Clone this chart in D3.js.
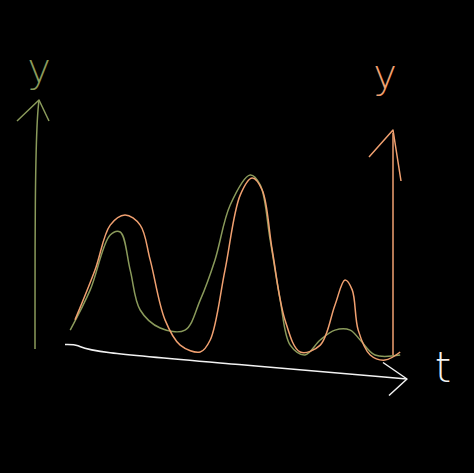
<!DOCTYPE html>
<html><head><meta charset="utf-8">
<script src="https://cdn.jsdelivr.net/npm/d3@7"></script>
<style>html,body{margin:0;background:#000;}</style></head>
<body><svg id="c" width="474" height="473"></svg>
<script>
const greenT=[0.88,1.38,1.88,2.13,2.38,2.63,3.13,3.75,4.13,4.5,4.88,5.38,5.63,5.88,6.13,6.38,6.75,7.13,7.5,7.88,8.13,8.5,9.13];
const greenY=[1.33,2.67,4.5,4.6,3.33,2,1.4,1.33,2.33,3.67,5.5,6.5,6.17,4.33,2.33,0.83,0.5,1,1.33,1.33,1,0.5,0.5];
const orangeT=[1,1.5,1.88,2.25,2.63,2.88,3.25,3.63,4.13,4.38,4.75,5.13,5.43,5.68,5.93,6.25,6.63,7.13,7.5,7.75,7.93,8.08,8.38,8.75,9.13];
const orangeY=[1.67,3.33,4.83,5.17,4.83,3.67,1.67,0.83,0.6,1,3.33,5.83,6.4,6,4,1.67,0.6,0.83,2.17,3,2.67,1.33,0.5,0.33,0.6];
const labels=["y","y","t"];
const svg=d3.select("#c");
svg.append("rect").attr("width",474).attr("height",473).attr("fill","#000");
const x=d3.scaleLinear().domain([0,10]).range([35,435]);
const y=d3.scaleLinear().domain([0,10]).range([370,70]);
const line=d3.line().x(d=>x(d[0])).y(d=>y(d[1])).curve(d3.curveCatmullRom);
const curve=d3.line().x(d=>x(d[0])).y(d=>y(d[1])).curve(d3.curveBasis);
const lin=d3.line().x(d=>x(d[0])).y(d=>y(d[1]));
const G="#8a9a5b",O="#f0a070",W="#f2f2f2";
function p(d,c){svg.append("path").attr("d",d).attr("stroke",c).attr("fill","none").attr("stroke-width",1.5).attr("stroke-linejoin","round");}
p(curve([[0,0.7],[0,6],[0.05,8.4],[0.1,9.0]]),G);
p(lin([[-0.45,8.3],[0.1,9.0],[0.35,8.3]]),G);
p(lin([[8.95,0.5],[8.95,7.9]]),O);
p(lin([[8.35,7.1],[8.95,8.0],[9.15,6.3]]),O);
p(curve([[0.75,0.85],[1.1,0.85],[1.3,0.6],[5,0.2],[9.3,-0.3]]),W);
p(lin([[8.7,0.25],[9.3,-0.3],[8.85,-0.85]]),W);
p(line(d3.zip(greenT,greenY)),G);
p(line(d3.zip(orangeT,orangeY)),O);
const tx=[[0.1,9.6,G],[8.75,9.4,O],[10.2,-0.4,W]];
labels.forEach((l,i)=>svg.append("text").attr("x",x(tx[i][0])).attr("y",y(tx[i][1])).attr("fill",tx[i][2])
 .attr("font-family","DejaVu Sans").attr("font-weight","200").attr("font-size",i==2?42:40).attr("text-anchor","middle").text(l));
</script></body></html>
